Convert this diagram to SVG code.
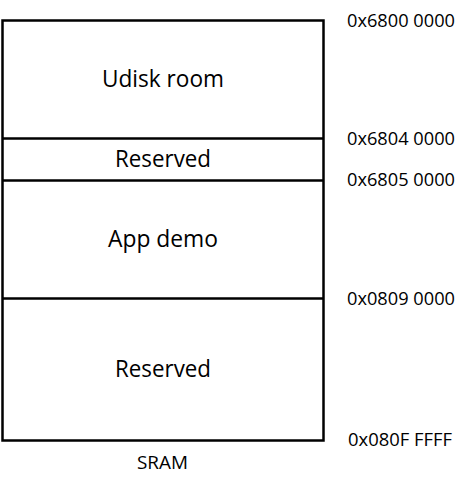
<svg xmlns="http://www.w3.org/2000/svg" width="468" height="486" viewBox="0 0 468 486">
<style>
.box{fill:#fff;stroke:#000;stroke-width:2.5}
.div{stroke:#000;stroke-width:2.5}
.lbl{font-family:"Open Sans","Liberation Sans",sans-serif;font-size:24px;fill:#000;text-anchor:middle}
.addr{font-family:"Open Sans","Liberation Sans",sans-serif;font-size:18px;fill:#000}
</style>
<rect width="468" height="486" fill="#fff"/>
<g id="sram">
<rect class="box" x="2.5" y="20.5" width="321" height="420"/>
</g>
<g id="dividers">
<line class="div" x1="2.5" y1="138.5" x2="323.5" y2="138.5"/>
<line class="div" x1="2.5" y1="180.5" x2="323.5" y2="180.5"/>
<line class="div" x1="2.5" y1="298.5" x2="323.5" y2="298.5"/>
</g>
<g id="udisk"><text class="lbl" x="163" y="87" textLength="122" lengthAdjust="spacingAndGlyphs">Udisk room</text></g>
<g id="reserved1"><text class="lbl" x="163" y="166.5" textLength="96" lengthAdjust="spacingAndGlyphs">Reserved</text></g>
<g id="appdemo"><text class="lbl" x="163" y="246.5" textLength="110" lengthAdjust="spacingAndGlyphs">App demo</text></g>
<g id="reserved2"><text class="lbl" x="163" y="376.5" textLength="96" lengthAdjust="spacingAndGlyphs">Reserved</text></g>
<g id="addresses">
<text class="addr" x="347" y="26.5" textLength="108" lengthAdjust="spacingAndGlyphs">0x6800 0000</text>
<text class="addr" x="347" y="145" textLength="108" lengthAdjust="spacingAndGlyphs">0x6804 0000</text>
<text class="addr" x="347" y="186" textLength="108" lengthAdjust="spacingAndGlyphs">0x6805 0000</text>
<text class="addr" x="347" y="305" textLength="108" lengthAdjust="spacingAndGlyphs">0x0809 0000</text>
<text class="addr" x="348" y="446" textLength="104" lengthAdjust="spacingAndGlyphs">0x080F FFFF</text>
</g>
<g id="caption"><text class="addr" x="137" y="469" textLength="51" lengthAdjust="spacingAndGlyphs">SRAM</text></g>
</svg>
